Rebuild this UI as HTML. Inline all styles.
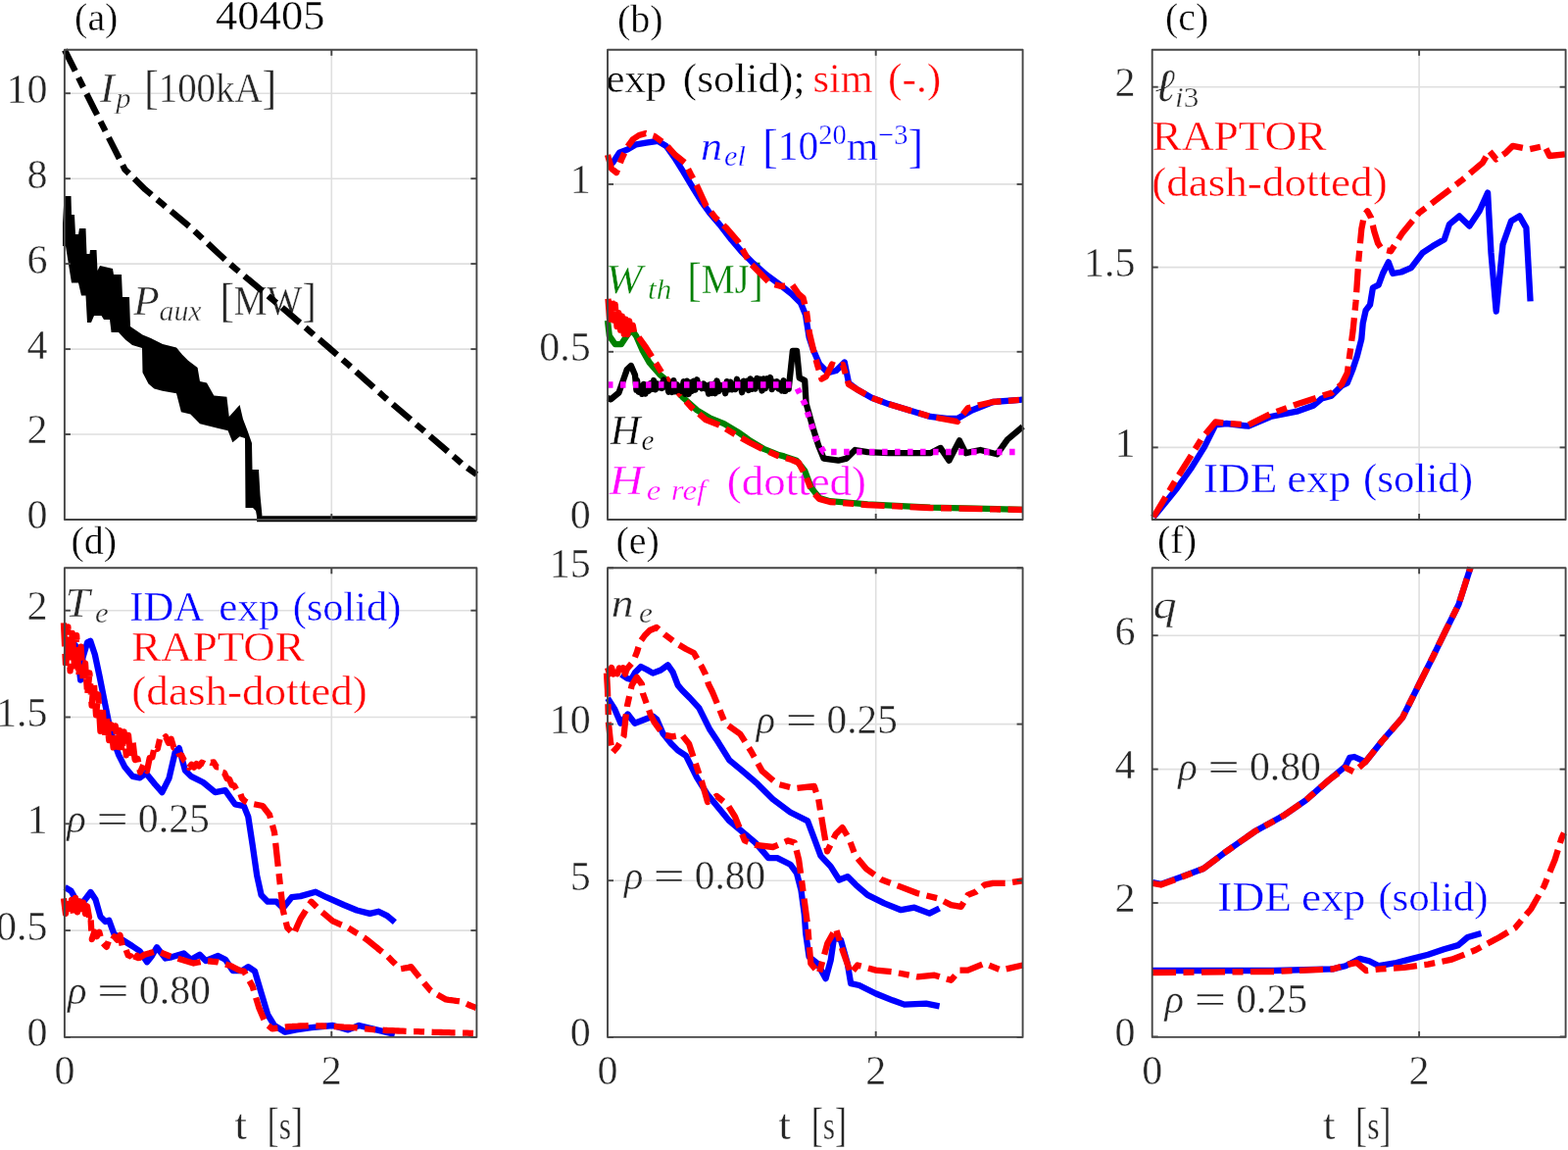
<!DOCTYPE html>
<html><head><meta charset="utf-8"><title>40405</title><style>html,body{margin:0;padding:0;background:#fff;overflow:hidden}svg{display:block}</style></head><body><svg width="1600" height="1173" viewBox="0 0 1600 1173" font-family="'Liberation Serif', 'DejaVu Serif', serif"><rect width="1600" height="1173" fill="#ffffff"/><g stroke="#dfdfdf" stroke-width="1.6"><line x1="65.9" y1="443.0" x2="486.4" y2="443.0"/><line x1="65.9" y1="356.1" x2="486.4" y2="356.1"/><line x1="65.9" y1="269.1" x2="486.4" y2="269.1"/><line x1="65.9" y1="182.2" x2="486.4" y2="182.2"/><line x1="65.9" y1="95.2" x2="486.4" y2="95.2"/><line x1="338.3" y1="50.8" x2="338.3" y2="530.0"/></g><g stroke="#dfdfdf" stroke-width="1.6"><line x1="620.0" y1="358.8" x2="1043.6" y2="358.8"/><line x1="620.0" y1="187.9" x2="1043.6" y2="187.9"/><line x1="893.7" y1="50.8" x2="893.7" y2="530.0"/></g><g stroke="#dfdfdf" stroke-width="1.6"><line x1="1175.7" y1="456.4" x2="1597.6" y2="456.4"/><line x1="1175.7" y1="272.6" x2="1597.6" y2="272.6"/><line x1="1175.7" y1="88.7" x2="1597.6" y2="88.7"/><line x1="1448.1" y1="50.8" x2="1448.1" y2="530.0"/></g><g stroke="#dfdfdf" stroke-width="1.6"><line x1="65.9" y1="949.1" x2="486.4" y2="949.1"/><line x1="65.9" y1="840.3" x2="486.4" y2="840.3"/><line x1="65.9" y1="731.5" x2="486.4" y2="731.5"/><line x1="65.9" y1="622.7" x2="486.4" y2="622.7"/><line x1="338.3" y1="579.3" x2="338.3" y2="1057.9"/></g><g stroke="#dfdfdf" stroke-width="1.6"><line x1="620.0" y1="898.2" x2="1043.6" y2="898.2"/><line x1="620.0" y1="738.6" x2="1043.6" y2="738.6"/><line x1="893.7" y1="579.3" x2="893.7" y2="1057.9"/></g><g stroke="#dfdfdf" stroke-width="1.6"><line x1="1175.7" y1="921.0" x2="1597.6" y2="921.0"/><line x1="1175.7" y1="784.6" x2="1597.6" y2="784.6"/><line x1="1175.7" y1="648.2" x2="1597.6" y2="648.2"/><line x1="1448.1" y1="579.3" x2="1448.1" y2="1057.9"/></g><g transform="translate(76.10,30.90) scale(0.9976,1)"><text x="0" y="0" font-size="40" fill="#000000" stroke="#ffffff" stroke-width="0.4" xml:space="preserve"><tspan >(a)</tspan></text></g><g transform="translate(219.94,29.60) scale(1.0637,1)"><text x="0" y="0" font-size="42" fill="#000000" stroke="#ffffff" stroke-width="0.4" xml:space="preserve"><tspan >40405</tspan></text></g><g transform="translate(629.90,32.50) scale(1.0023,1)"><text x="0" y="0" font-size="40" fill="#000000" stroke="#ffffff" stroke-width="0.4" xml:space="preserve"><tspan >(b)</tspan></text></g><g transform="translate(1189.11,30.90) scale(0.9927,1)"><text x="0" y="0" font-size="40" fill="#000000" stroke="#ffffff" stroke-width="0.4" xml:space="preserve"><tspan >(c)</tspan></text></g><g transform="translate(72.50,564.50) scale(1.0000,1)"><text x="0" y="0" font-size="40" fill="#000000" stroke="#ffffff" stroke-width="0.4" xml:space="preserve"><tspan >(d)</tspan></text></g><g transform="translate(628.50,564.50) scale(1.0000,1)"><text x="0" y="0" font-size="40" fill="#000000" stroke="#ffffff" stroke-width="0.4" xml:space="preserve"><tspan >(e)</tspan></text></g><g transform="translate(1181.00,563.50) scale(1.0000,1)"><text x="0" y="0" font-size="40" fill="#000000" stroke="#ffffff" stroke-width="0.4" xml:space="preserve"><tspan >(f)</tspan></text></g><g transform="translate(101.90,103.80) scale(1.0552,1)"><text x="0" y="0" font-size="42" fill="#262626" stroke="#ffffff" stroke-width="0.4" xml:space="preserve"><tspan font-style="italic">I</tspan><tspan font-style="italic" font-size="29" dy="6" dx="1.5">p</tspan></text></g><g transform="translate(146.89,103.80) scale(0.9266,1)"><text x="0" y="0" font-size="42" fill="#262626" stroke="#ffffff" stroke-width="0.4" xml:space="preserve"><tspan font-size="48" dy="1.5">[</tspan><tspan dy="-1.5">100kA</tspan><tspan font-size="48" dy="1.5">]</tspan></text></g><g transform="translate(136.20,320.70) scale(1.0269,1)"><text x="0" y="0" font-size="42" fill="#262626" stroke="#ffffff" stroke-width="0.4" xml:space="preserve"><tspan font-style="italic">P</tspan><tspan font-style="italic" font-size="29" dy="6">aux</tspan></text></g><g transform="translate(224.38,320.70) scale(0.9040,1)"><text x="0" y="0" font-size="42" fill="#262626" stroke="#ffffff" stroke-width="0.4" xml:space="preserve"><tspan font-size="48" dy="1.5">[</tspan><tspan dy="-1.5">MW</tspan><tspan font-size="48" dy="1.5">]</tspan></text></g><g transform="translate(618.46,94.40) scale(1.0193,1)"><text x="0" y="0" font-size="42" fill="#000000" stroke="#ffffff" stroke-width="0.4" xml:space="preserve"><tspan >exp</tspan></text></g><g transform="translate(696.85,94.40) scale(1.0267,1)"><text x="0" y="0" font-size="42" fill="#000000" stroke="#ffffff" stroke-width="0.4" xml:space="preserve"><tspan >(solid);</tspan></text></g><g transform="translate(829.59,94.40) scale(1.0069,1)"><text x="0" y="0" font-size="42" fill="#ff0000" stroke="#ffffff" stroke-width="0.4" xml:space="preserve"><tspan >sim</tspan></text></g><g transform="translate(905.93,94.40) scale(1.0367,1)"><text x="0" y="0" font-size="42" fill="#ff0000" stroke="#ffffff" stroke-width="0.4" xml:space="preserve"><tspan >(-.)</tspan></text></g><g transform="translate(714.90,163.00) scale(1.0488,1)"><text x="0" y="0" font-size="42" fill="#0000ff" stroke="#ffffff" stroke-width="0.4" xml:space="preserve"><tspan font-style="italic">n</tspan><tspan font-style="italic" font-size="29" dy="6" dx="2">el</tspan></text></g><g transform="translate(778.05,163.00) scale(0.9868,1)"><text x="0" y="0" font-size="42" fill="#0000ff" stroke="#ffffff" stroke-width="0.4" xml:space="preserve"><tspan font-size="48" dy="1.5">[</tspan><tspan dy="-1.5">10</tspan><tspan font-size="29" dy="-16">20</tspan><tspan dy="16">m</tspan><tspan font-size="29" dy="-16">−3</tspan><tspan font-size="48" dy="17.5">]</tspan></text></g><g transform="translate(618.08,298.80) scale(1.0741,1)"><text x="0" y="0" font-size="42" fill="#008000" stroke="#ffffff" stroke-width="0.4" xml:space="preserve"><tspan font-style="italic">W</tspan><tspan font-style="italic" font-size="29" dy="6" dx="5">th</tspan></text></g><g transform="translate(701.37,299.20) scale(0.9064,1)"><text x="0" y="0" font-size="42" fill="#008000" stroke="#ffffff" stroke-width="0.4" xml:space="preserve"><tspan font-size="48" dy="1.5">[</tspan><tspan dy="-1.5">MJ</tspan><tspan font-size="48" dy="1.5">]</tspan></text></g><g transform="translate(622.70,452.60) scale(1.0116,1)"><text x="0" y="0" font-size="42" fill="#000000" stroke="#ffffff" stroke-width="0.4" xml:space="preserve"><tspan font-style="italic">H</tspan><tspan font-style="italic" font-size="29" dy="6" dx="1">e</tspan></text></g><g transform="translate(621.80,504.30) scale(1.1404,1)"><text x="0" y="0" font-size="42" fill="#ff00ff" stroke="#ffffff" stroke-width="0.4" xml:space="preserve"><tspan font-style="italic">H</tspan><tspan font-style="italic" font-size="29" dy="6" dx="3">e</tspan><tspan font-style="italic" font-size="29" dx="9">ref</tspan></text></g><g transform="translate(741.86,505.00) scale(1.0690,1)"><text x="0" y="0" font-size="42" fill="#ff00ff" stroke="#ffffff" stroke-width="0.4" xml:space="preserve"><tspan >(dotted)</tspan></text></g><g transform="translate(1177.92,102.50) scale(1.0750,1)"><text x="0" y="0" font-size="42" fill="#262626" stroke="#ffffff" stroke-width="0.4" xml:space="preserve"><tspan font-style="italic" font-size="47">ℓ</tspan><tspan font-style="italic" font-size="29" dy="6">i</tspan><tspan font-size="29">3</tspan></text></g><g transform="translate(1175.42,153.40) scale(1.0799,1)"><text x="0" y="0" font-size="42" fill="#ff0000" stroke="#ffffff" stroke-width="0.4" xml:space="preserve"><tspan >RAPTOR</tspan></text></g><g transform="translate(1175.15,199.70) scale(1.0745,1)"><text x="0" y="0" font-size="42" fill="#ff0000" stroke="#ffffff" stroke-width="0.4" xml:space="preserve"><tspan >(dash-dotted)</tspan></text></g><g transform="translate(1228.05,501.70) scale(1.0773,1)"><text x="0" y="0" font-size="42" fill="#0000ff" stroke="#ffffff" stroke-width="0.4" xml:space="preserve"><tspan >IDE</tspan></text></g><g transform="translate(1313.35,501.70) scale(1.0737,1)"><text x="0" y="0" font-size="42" fill="#0000ff" stroke="#ffffff" stroke-width="0.4" xml:space="preserve"><tspan >exp</tspan></text></g><g transform="translate(1391.06,501.70) scale(1.0217,1)"><text x="0" y="0" font-size="42" fill="#0000ff" stroke="#ffffff" stroke-width="0.4" xml:space="preserve"><tspan >(solid)</tspan></text></g><g transform="translate(66.80,629.40) scale(1.0676,1)"><text x="0" y="0" font-size="42" fill="#262626" stroke="#ffffff" stroke-width="0.4" xml:space="preserve"><tspan font-style="italic">T</tspan><tspan font-style="italic" font-size="29" dy="6" dx="5">e</tspan></text></g><g transform="translate(132.27,632.80) scale(1.0153,1)"><text x="0" y="0" font-size="42" fill="#0000ff" stroke="#ffffff" stroke-width="0.4" xml:space="preserve"><tspan >IDA</tspan></text></g><g transform="translate(223.35,632.80) scale(1.0263,1)"><text x="0" y="0" font-size="42" fill="#0000ff" stroke="#ffffff" stroke-width="0.4" xml:space="preserve"><tspan >exp</tspan></text></g><g transform="translate(298.78,632.80) scale(1.0085,1)"><text x="0" y="0" font-size="42" fill="#0000ff" stroke="#ffffff" stroke-width="0.4" xml:space="preserve"><tspan >(solid)</tspan></text></g><g transform="translate(134.33,673.80) scale(1.0701,1)"><text x="0" y="0" font-size="42" fill="#ff0000" stroke="#ffffff" stroke-width="0.4" xml:space="preserve"><tspan >RAPTOR</tspan></text></g><g transform="translate(134.35,718.80) scale(1.0741,1)"><text x="0" y="0" font-size="42" fill="#ff0000" stroke="#ffffff" stroke-width="0.4" xml:space="preserve"><tspan >(dash-dotted)</tspan></text></g><g transform="translate(68.17,849.00) scale(0.9700,1)"><text x="0" y="0" font-size="42" fill="#262626" stroke="#ffffff" stroke-width="0.4" xml:space="preserve"><tspan font-style="italic">ρ</tspan></text></g><g transform="translate(98.14,849.00) scale(1.3800,1)"><text x="0" y="0" font-size="42" fill="#262626" stroke="#ffffff" stroke-width="0.4" xml:space="preserve"><tspan >=</tspan></text></g><g transform="translate(140.81,849.00) scale(0.9943,1)"><text x="0" y="0" font-size="42" fill="#262626" stroke="#ffffff" stroke-width="0.4" xml:space="preserve"><tspan >0.25</tspan></text></g><g transform="translate(68.97,1024.00) scale(0.9720,1)"><text x="0" y="0" font-size="42" fill="#262626" stroke="#ffffff" stroke-width="0.4" xml:space="preserve"><tspan font-style="italic">ρ</tspan></text></g><g transform="translate(99.00,1024.00) scale(1.3829,1)"><text x="0" y="0" font-size="42" fill="#262626" stroke="#ffffff" stroke-width="0.4" xml:space="preserve"><tspan >=</tspan></text></g><g transform="translate(141.76,1024.00) scale(0.9963,1)"><text x="0" y="0" font-size="42" fill="#262626" stroke="#ffffff" stroke-width="0.4" xml:space="preserve"><tspan >0.80</tspan></text></g><g transform="translate(623.83,629.10) scale(1.0833,1)"><text x="0" y="0" font-size="42" fill="#262626" stroke="#ffffff" stroke-width="0.4" xml:space="preserve"><tspan font-style="italic">n</tspan><tspan font-style="italic" font-size="29" dy="6" dx="5">e</tspan></text></g><g transform="translate(771.86,748.00) scale(0.9580,1)"><text x="0" y="0" font-size="42" fill="#262626" stroke="#ffffff" stroke-width="0.4" xml:space="preserve"><tspan font-style="italic">ρ</tspan></text></g><g transform="translate(801.46,748.00) scale(1.3629,1)"><text x="0" y="0" font-size="42" fill="#262626" stroke="#ffffff" stroke-width="0.4" xml:space="preserve"><tspan >=</tspan></text></g><g transform="translate(843.60,748.00) scale(0.9820,1)"><text x="0" y="0" font-size="42" fill="#262626" stroke="#ffffff" stroke-width="0.4" xml:space="preserve"><tspan >0.25</tspan></text></g><g transform="translate(636.96,907.00) scale(0.9593,1)"><text x="0" y="0" font-size="42" fill="#262626" stroke="#ffffff" stroke-width="0.4" xml:space="preserve"><tspan font-style="italic">ρ</tspan></text></g><g transform="translate(666.60,907.00) scale(1.3648,1)"><text x="0" y="0" font-size="42" fill="#262626" stroke="#ffffff" stroke-width="0.4" xml:space="preserve"><tspan >=</tspan></text></g><g transform="translate(708.80,907.00) scale(0.9833,1)"><text x="0" y="0" font-size="42" fill="#262626" stroke="#ffffff" stroke-width="0.4" xml:space="preserve"><tspan >0.80</tspan></text></g><g transform="translate(1176.66,630.50) scale(1.1368,1)"><text x="0" y="0" font-size="42" fill="#262626" stroke="#ffffff" stroke-width="0.4" xml:space="preserve"><tspan font-style="italic">q</tspan></text></g><g transform="translate(1202.37,795.90) scale(0.9693,1)"><text x="0" y="0" font-size="42" fill="#262626" stroke="#ffffff" stroke-width="0.4" xml:space="preserve"><tspan font-style="italic">ρ</tspan></text></g><g transform="translate(1232.32,795.90) scale(1.3790,1)"><text x="0" y="0" font-size="42" fill="#262626" stroke="#ffffff" stroke-width="0.4" xml:space="preserve"><tspan >=</tspan></text></g><g transform="translate(1274.96,795.90) scale(0.9936,1)"><text x="0" y="0" font-size="42" fill="#262626" stroke="#ffffff" stroke-width="0.4" xml:space="preserve"><tspan >0.80</tspan></text></g><g transform="translate(1188.57,1033.10) scale(0.9693,1)"><text x="0" y="0" font-size="42" fill="#262626" stroke="#ffffff" stroke-width="0.4" xml:space="preserve"><tspan font-style="italic">ρ</tspan></text></g><g transform="translate(1218.52,1033.10) scale(1.3790,1)"><text x="0" y="0" font-size="42" fill="#262626" stroke="#ffffff" stroke-width="0.4" xml:space="preserve"><tspan >=</tspan></text></g><g transform="translate(1261.16,1033.10) scale(0.9936,1)"><text x="0" y="0" font-size="42" fill="#262626" stroke="#ffffff" stroke-width="0.4" xml:space="preserve"><tspan >0.25</tspan></text></g><g transform="translate(1242.34,929.20) scale(1.0824,1)"><text x="0" y="0" font-size="42" fill="#0000ff" stroke="#ffffff" stroke-width="0.4" xml:space="preserve"><tspan >IDE</tspan></text></g><g transform="translate(1328.05,929.20) scale(1.0788,1)"><text x="0" y="0" font-size="42" fill="#0000ff" stroke="#ffffff" stroke-width="0.4" xml:space="preserve"><tspan >exp</tspan></text></g><g transform="translate(1406.13,929.20) scale(1.0266,1)"><text x="0" y="0" font-size="42" fill="#0000ff" stroke="#ffffff" stroke-width="0.4" xml:space="preserve"><tspan >(solid)</tspan></text></g><g transform="translate(239.40,1161.70) scale(1.0000,1)"><text x="0" y="0" font-size="42" fill="#262626" stroke="#ffffff" stroke-width="0.4" xml:space="preserve"><tspan font-size="45">t</tspan></text></g><g transform="translate(272.59,1161.70) scale(0.7537,1)"><text x="0" y="0" font-size="42" fill="#262626" stroke="#ffffff" stroke-width="0.4" xml:space="preserve"><tspan font-size="48" dy="1.5">[</tspan><tspan dy="-1.5">s</tspan><tspan font-size="48" dy="1.5">]</tspan></text></g><g transform="translate(794.50,1161.70) scale(1.0000,1)"><text x="0" y="0" font-size="42" fill="#262626" stroke="#ffffff" stroke-width="0.4" xml:space="preserve"><tspan font-size="45">t</tspan></text></g><g transform="translate(827.69,1161.70) scale(0.7537,1)"><text x="0" y="0" font-size="42" fill="#262626" stroke="#ffffff" stroke-width="0.4" xml:space="preserve"><tspan font-size="48" dy="1.5">[</tspan><tspan dy="-1.5">s</tspan><tspan font-size="48" dy="1.5">]</tspan></text></g><g transform="translate(1349.90,1161.70) scale(1.0000,1)"><text x="0" y="0" font-size="42" fill="#262626" stroke="#ffffff" stroke-width="0.4" xml:space="preserve"><tspan font-size="45">t</tspan></text></g><g transform="translate(1383.09,1161.70) scale(0.7537,1)"><text x="0" y="0" font-size="42" fill="#262626" stroke="#ffffff" stroke-width="0.4" xml:space="preserve"><tspan font-size="48" dy="1.5">[</tspan><tspan dy="-1.5">s</tspan><tspan font-size="48" dy="1.5">]</tspan></text></g><g font-size="42" fill="#262626" stroke="#ffffff" stroke-width="0.4"><text x="48.6" y="539.4" text-anchor="end">0</text><text x="48.6" y="452.4" text-anchor="end">2</text><text x="48.6" y="365.5" text-anchor="end">4</text><text x="48.6" y="278.5" text-anchor="end">6</text><text x="48.6" y="191.6" text-anchor="end">8</text><text x="48.6" y="104.6" text-anchor="end">10</text><text x="602.7" y="539.4" text-anchor="end">0</text><text x="602.7" y="368.2" text-anchor="end">0.5</text><text x="602.7" y="197.3" text-anchor="end">1</text><text x="1158.4" y="465.8" text-anchor="end">1</text><text x="1158.4" y="282.0" text-anchor="end">1.5</text><text x="1158.4" y="98.1" text-anchor="end">2</text><text x="48.6" y="1067.3" text-anchor="end">0</text><text x="48.6" y="958.5" text-anchor="end">0.5</text><text x="48.6" y="849.7" text-anchor="end">1</text><text x="48.6" y="740.9" text-anchor="end">1.5</text><text x="48.6" y="632.1" text-anchor="end">2</text><text x="65.9" y="1106.3" text-anchor="middle">0</text><text x="338.3" y="1106.3" text-anchor="middle">2</text><text x="602.7" y="1067.3" text-anchor="end">0</text><text x="602.7" y="907.6" text-anchor="end">5</text><text x="602.7" y="748.0" text-anchor="end">10</text><text x="602.7" y="588.7" text-anchor="end">15</text><text x="620.0" y="1106.3" text-anchor="middle">0</text><text x="893.7" y="1106.3" text-anchor="middle">2</text><text x="1158.4" y="1066.8" text-anchor="end">0</text><text x="1158.4" y="930.4" text-anchor="end">2</text><text x="1158.4" y="794.0" text-anchor="end">4</text><text x="1158.4" y="657.6" text-anchor="end">6</text><text x="1175.7" y="1106.3" text-anchor="middle">0</text><text x="1448.1" y="1106.3" text-anchor="middle">2</text></g><g><polygon points="64.0,228.0 65.5,200.0 72.5,200.0 73.0,219.0 76.0,219.0 77.0,239.0 80.0,239.0 81.0,233.0 87.5,233.0 88.5,259.0 91.5,259.0 92.0,255.0 98.5,255.0 99.5,276.0 102.0,271.0 115.0,274.0 116.0,280.0 124.0,280.0 125.0,303.0 132.0,303.0 133.0,333.0 145.5,341.5 154.0,345.0 166.0,351.0 180.0,354.6 186.0,361.8 192.0,367.7 201.6,374.9 204.0,389.0 211.0,390.4 218.3,403.5 231.4,404.7 233.8,425.0 244.6,413.0 248.0,427.4 252.8,440.0 257.0,452.0 257.5,479.0 264.0,479.0 265.5,505.0 267.5,526.0 263.0,532.0 261.0,521.0 258.0,518.0 250.5,518.0 250.0,447.0 244.6,445.3 237.4,451.3 232.6,439.3 223.0,437.0 204.0,432.2 194.4,422.6 184.9,420.2 180.0,401.2 165.8,398.8 157.4,396.4 151.5,391.6 145.5,380.0 145.0,355.0 135.0,352.0 128.0,346.5 121.0,339.0 113.6,339.0 112.0,326.0 106.0,326.0 103.5,322.0 96.0,322.0 93.0,329.0 89.0,329.0 87.5,301.6 83.0,301.6 80.0,288.5 73.0,288.5 67.0,251.0 64.0,251.0" fill="#000000" stroke="none"/><polyline points="262.0,529.3 486.4,529.3" fill="none" stroke="#000000" stroke-width="6" stroke-linejoin="round" stroke-linecap="butt"/><polyline points="66.0,51.0 96.0,111.0 127.5,173.0 148.1,193.2 195.0,232.5 232.5,267.5 288.8,314.5 335.5,354.5 354.6,371.2 392.8,405.5 433.7,440.5 473.2,474.5 486.4,484.0" fill="none" stroke="#000000" stroke-width="6.3" stroke-linejoin="round" stroke-linecap="butt" stroke-dasharray="24 7.5 11 7.5"/><polyline points="620.1,164.3 625.2,166.0 632.0,155.8 640.6,152.4 649.1,147.3 659.3,145.6 671.3,143.9 679.8,149.0 688.3,160.9 696.9,174.6 707.1,191.6 715.6,205.3 724.1,217.2 734.4,229.1 746.3,244.5 756.5,256.4 768.5,268.4 782.1,280.3 794.0,289.0 808.0,300.0 817.0,309.0 822.0,321.0 825.6,344.0 829.8,356.7 836.2,371.6 844.8,380.2 853.3,378.0 861.8,369.5 866.1,390.8 874.6,397.2 889.5,405.7 906.6,412.1 927.9,418.5 949.2,424.9 966.2,427.0 976.9,427.0 991.8,418.5 1013.1,410.0 1040.8,407.9 1043.6,407.5" fill="none" stroke="#0000ff" stroke-width="6.3" stroke-linejoin="round" stroke-linecap="butt"/><polyline points="620.0,158.0 624.0,172.0 629.0,176.0 634.0,163.0 640.0,150.0 646.0,142.0 652.0,138.0 659.0,136.0 668.0,139.0 679.0,147.0 689.0,158.0 699.0,166.0 705.0,178.0 710.5,188.2 720.7,210.4 730.0,222.0 741.2,232.5 753.1,246.2 765.1,268.0 775.0,278.0 785.5,288.8 797.0,292.0 808.5,290.7 815.0,300.0 819.6,304.0 823.0,318.0 826.0,340.0 830.0,357.0 834.0,372.0 838.4,386.6 843.0,384.0 849.0,371.6 855.0,374.0 860.0,372.0 866.0,392.0 874.6,397.2 889.5,405.7 906.6,412.1 927.9,418.5 949.2,424.9 966.2,428.0 976.9,430.0 987.5,416.4 1000.0,413.0 1013.0,410.0 1040.8,407.9 1043.6,407.5" fill="none" stroke="#ff0000" stroke-width="6.3" stroke-linejoin="round" stroke-linecap="butt" stroke-dasharray="24 7.5 11 7.5"/><polyline points="620.0,327.0 621.8,342.6 627.8,351.2 633.8,351.2 640.6,340.9 644.8,336.7 649.1,342.6 655.9,358.0 662.7,369.9 673.0,381.8 683.7,390.9 697.5,406.0 711.2,418.4 725.0,426.6 738.7,432.1 752.5,440.4 766.2,450.0 780.0,458.2 793.7,463.7 800.0,465.4 807.5,467.9 812.8,469.7 821.3,480.3 827.7,497.4 836.2,508.0 846.9,511.2 885.3,514.4 949.2,517.6 1043.6,519.8" fill="none" stroke="#008000" stroke-width="6.3" stroke-linejoin="round" stroke-linecap="butt"/><polyline points="620.5,304.7 622.3,330.3 624.1,306.4 625.9,326.5 627.7,310.6 629.5,333.0 631.3,319.0 633.1,336.7 634.9,322.7 636.7,340.8 638.5,325.6 640.3,341.0 642.1,327.3 643.9,338.4 645.7,331.7 647.5,340.9 651.0,343.0 659.3,354.6 667.9,368.2 676.4,381.8 690.0,398.0 705.0,415.0 720.0,428.0 735.0,434.0 750.0,443.0 766.0,452.0 780.0,459.0 794.0,465.0 808.0,469.0 815.0,472.0 822.0,485.0 828.0,500.0 836.0,509.0 847.0,512.0 885.0,515.0 949.0,518.0 1043.6,520.0" fill="none" stroke="#ff0000" stroke-width="6.3" stroke-linejoin="round" stroke-linecap="butt" stroke-dasharray="24 7.5 11 7.5"/><polyline points="620.0,406.0 623.2,407.4 631.5,400.5 639.7,377.1 643.9,373.0 648.0,382.6 649.4,397.7 650.0,388.0 651.7,399.9 653.4,394.1 655.1,401.9 656.8,391.9 658.5,401.6 660.2,393.1 661.9,398.8 663.6,391.1 665.3,396.8 667.0,388.0 668.7,397.4 670.4,391.3 672.1,395.3 673.8,391.9 675.5,395.9 677.2,387.4 678.9,394.2 680.6,392.4 682.3,399.8 684.0,392.7 685.7,400.0 687.4,388.2 689.1,399.2 690.8,392.3 692.5,397.8 694.2,395.0 695.9,399.1 697.6,389.3 699.3,401.8 701.0,388.6 702.7,402.0 704.4,390.2 706.1,398.8 707.8,388.8 709.5,397.6 711.2,387.3 712.9,394.7 714.6,392.0 716.3,396.2 718.0,391.5 719.7,396.3 721.4,393.2 723.1,401.6 724.8,392.2 726.5,401.0 728.2,391.6 729.9,401.2 731.6,388.5 733.3,399.1 735.0,392.8 736.7,396.7 738.4,392.9 740.1,401.2 741.8,389.1 743.5,397.3 745.2,389.6 746.9,397.3 748.6,393.3 750.3,397.1 752.0,386.8 753.7,394.8 755.4,390.6 757.1,400.2 758.8,388.6 760.5,396.5 762.2,388.7 763.9,398.0 765.6,386.4 767.3,396.8 769.0,388.5 770.7,396.6 772.4,385.9 774.1,393.6 775.8,386.7 777.5,398.5 779.2,386.4 780.9,396.2 782.6,386.3 784.3,392.9 786.0,385.0 787.7,397.1 789.4,389.5 791.1,394.5 792.8,389.3 794.5,396.6 796.2,390.9 797.9,398.5 799.6,388.3 801.3,398.9 803.0,392.0 804.7,396.8 808.9,357.9 813.0,357.9 815.7,385.4 821.2,388.1 822.6,411.5 829.5,436.2 835.0,454.0 840.5,467.6 855.4,469.7 863.9,467.6 872.5,459.0 885.3,461.2 906.6,462.2 927.9,462.2 949.2,462.2 959.8,456.9 968.4,469.7 979.0,449.4 985.4,462.2 1000.3,459.0 1017.4,463.3 1028.0,448.4 1040.8,437.7 1043.6,435.0" fill="none" stroke="#000000" stroke-width="6.3" stroke-linejoin="round" stroke-linecap="butt"/><polyline points="620.0,392.5 808.0,392.5 813.0,395.0 821.3,412.0 832.0,446.0 840.5,461.0 1043.6,461.0" fill="none" stroke="#ff00ff" stroke-width="6.3" stroke-linejoin="round" stroke-linecap="butt" stroke-dasharray="5.5 7.5"/><polyline points="1177.0,527.5 1189.7,512.0 1201.0,498.0 1215.0,478.3 1229.0,455.8 1240.3,433.3 1251.5,432.0 1274.0,434.7 1296.5,425.0 1324.6,419.3 1340.0,413.8 1348.7,406.5 1358.8,403.6 1369.0,393.5 1374.8,390.6 1380.6,376.1 1384.9,363.0 1389.3,345.7 1390.7,329.7 1393.6,316.7 1398.0,310.9 1400.9,293.5 1406.7,290.6 1411.0,279.0 1416.8,267.4 1421.2,279.0 1429.9,277.5 1440.0,273.2 1451.6,257.9 1461.9,251.1 1473.8,244.3 1478.9,228.9 1489.1,220.4 1499.4,230.6 1509.6,215.3 1518.1,196.5 1521.5,257.9 1526.7,317.6 1533.5,249.4 1542.0,225.5 1550.5,220.4 1557.4,232.3 1561.6,307.4" fill="none" stroke="#0000ff" stroke-width="6.3" stroke-linejoin="round" stroke-linecap="butt"/><polyline points="1177.0,527.5 1198.1,492.4 1226.2,447.4 1240.3,430.5 1254.3,432.0 1274.0,433.3 1296.5,422.1 1327.4,410.9 1358.8,400.7 1369.0,392.0 1374.8,380.4 1377.7,358.7 1380.6,337.0 1383.5,308.0 1386.4,264.5 1389.3,233.7 1392.0,220.0 1395.3,215.3 1399.0,222.0 1402.2,235.7 1406.0,248.0 1410.0,254.0 1419.2,256.2 1431.2,237.4 1448.2,217.0 1468.7,201.6 1490.8,184.6 1513.0,165.8 1519.8,153.9 1526.7,162.4 1536.9,155.6 1543.7,148.8 1560.8,152.2 1576.1,148.8 1581.2,159.0 1597.6,157.3" fill="none" stroke="#ff0000" stroke-width="6.3" stroke-linejoin="round" stroke-linecap="butt" stroke-dasharray="24 7.5 11 7.5"/><polyline points="66.0,651.0 70.0,655.0 73.8,655.3 76.9,658.3 80.0,675.2 82.2,693.6 84.5,670.6 89.1,655.3 92.2,653.7 96.8,667.5 101.4,689.0 106.0,712.0 109.1,727.4 112.1,742.7 116.7,758.0 121.3,770.3 127.5,782.6 135.2,791.8 142.8,793.3 149.0,788.7 158.2,800.0 165.4,808.2 172.5,793.9 178.7,767.3 182.8,763.2 188.9,785.7 195.0,791.9 207.3,798.0 219.6,808.2 229.8,806.2 240.0,820.5 248.9,822.2 253.3,833.2 257.7,862.0 262.2,893.1 266.6,913.0 273.2,919.7 282.1,919.7 288.8,926.3 297.6,915.2 306.5,914.1 322.0,909.7 333.1,915.2 350.8,923.0 364.1,928.5 377.4,931.9 386.3,929.7 395.1,934.1 402.9,940.7" fill="none" stroke="#0000ff" stroke-width="6.3" stroke-linejoin="round" stroke-linecap="butt"/><polyline points="66.2,905.0 72.5,908.8 78.8,920.0 85.0,920.0 92.5,910.0 97.5,917.5 102.5,935.0 107.5,940.0 111.3,938.8 116.3,952.5 125.0,958.8 135.0,965.0 142.5,970.0 150.0,981.3 155.0,975.0 160.0,966.3 168.8,977.5 175.0,976.3 187.5,972.5 195.0,978.8 203.8,973.8 210.0,980.0 222.5,975.0 230.0,978.8 237.5,990.0 247.5,990.0 253.3,986.2 260.0,990.6 266.6,1012.8 273.2,1034.9 279.9,1046.0 291.0,1052.7 302.1,1050.4 317.6,1048.2 339.7,1046.0 355.2,1050.4 366.3,1046.0 384.1,1050.4 402.9,1054.9" fill="none" stroke="#0000ff" stroke-width="6.3" stroke-linejoin="round" stroke-linecap="butt"/><polyline points="65.0,635.4 67.2,682.2 69.4,639.3 71.6,684.3 73.8,645.8 76.0,679.3 78.2,648.1 80.4,689.7 82.6,659.7 84.8,695.6 87.0,676.3 89.2,708.9 91.4,686.5 93.6,719.6 95.8,695.4 98.0,729.4 100.2,708.5 102.4,745.8 104.6,720.4 106.8,752.9 109.0,732.3 111.2,755.0 113.4,739.1 115.6,762.4 117.8,740.3 120.0,761.8 122.2,745.0 124.4,766.6 126.6,746.4 128.8,770.3 131.0,749.9 133.2,771.8 135.4,755.2 137.6,774.4 138.0,775.1 140.5,774.0 143.0,787.7 146.5,779.9 150.0,786.3 152.7,773.1 155.3,772.5 158.0,760.7 160.8,763.7 163.6,751.7 166.4,753.8 169.1,751.4 171.9,757.8 174.6,753.7 177.3,762.6 180.1,763.1 182.8,769.5 185.4,770.7 187.9,775.6 190.4,777.4 193.0,783.0 195.5,779.8 198.0,782.6 200.5,779.1 203.0,781.4 206.0,777.7 209.0,779.3 212.0,776.5 215.0,777.8 218.0,777.5 221.0,782.3 224.0,782.3 226.5,787.7 229.0,788.4 231.5,794.1 234.0,794.8 236.5,800.8 239.0,801.4 241.5,805.7 244.0,806.1 247.0,814.3 250.0,817.3 252.7,818.7 255.3,819.3 258.0,820.0 260.5,820.5 263.0,821.0 265.5,821.5 268.0,822.0 271.5,826.5 275.0,831.0 277.5,840.0 280.0,849.0 284.3,888.6 288.8,928.5 293.2,946.3 296.5,949.6 299.8,952.9 303.1,945.1 306.5,937.4 309.3,933.0 312.1,928.5 314.8,924.1 317.6,919.7 320.5,922.6 323.5,925.6 326.4,928.5 329.1,930.7 331.7,932.9 334.4,935.2 337.0,937.4 339.7,939.6 342.3,940.7 344.9,941.8 347.4,943.0 350.0,944.1 352.6,945.2 355.2,946.3 357.7,947.9 360.3,949.5 362.8,951.1 365.4,952.6 367.9,954.2 370.5,955.8 373.0,957.4 375.8,959.6 378.5,961.8 381.3,964.0 384.1,966.2 386.8,968.5 389.6,970.7 392.3,972.9 395.1,975.1 397.8,977.8 400.4,980.4 403.1,983.1 405.7,985.7 408.4,988.4 411.2,987.9 413.9,987.3 416.7,986.8 419.5,986.2 422.5,989.9 425.4,993.6 428.4,997.3 431.2,1000.6 433.9,1003.9 436.7,1007.2 439.5,1010.5 442.1,1012.0 444.7,1013.5 447.2,1015.0 449.8,1016.4 452.4,1017.9 455.0,1019.4 457.6,1019.8 460.2,1020.1 462.8,1020.5 465.3,1020.9 467.9,1021.2 470.5,1021.6 473.1,1022.7 475.8,1023.8 478.4,1025.0 481.1,1026.1 483.8,1027.2 486.4,1028.3" fill="none" stroke="#ff0000" stroke-width="6.3" stroke-linejoin="round" stroke-linecap="butt" stroke-dasharray="24 7.5 11 7.5"/><polyline points="65.0,916.4 67.0,932.0 69.0,917.7 71.0,932.7 73.0,917.9 75.0,932.2 77.0,915.8 79.0,930.4 81.0,919.4 83.0,931.9 85.0,920.5 87.0,932.0 89.0,924.2 91.0,935.7 88.8,935.7 92.5,935.7 93.8,958.1 96.3,950.6 98.8,955.1 101.3,950.7 103.8,960.4 106.3,963.2 108.8,965.8 111.3,958.4 113.8,960.2 116.7,955.3 119.6,958.7 122.5,953.9 125.0,966.1 127.5,965.9 130.7,974.4 133.8,975.5 137.5,981.6 140.0,974.8 142.5,976.9 145.0,975.3 147.5,973.8 150.0,973.0 152.5,972.3 155.0,971.5 157.5,970.8 160.0,970.0 162.5,971.0 165.0,972.0 167.5,973.0 170.0,974.0 172.5,975.0 175.0,975.8 177.5,976.5 180.0,977.3 182.5,978.0 185.0,978.8 187.5,979.5 190.0,980.3 192.5,981.0 195.0,981.8 197.5,982.5 200.0,982.0 202.5,981.5 205.0,981.0 207.5,980.5 210.0,980.0 212.5,980.3 215.0,980.5 217.5,980.8 220.0,981.0 222.5,981.3 225.0,982.0 227.5,982.8 230.0,983.5 232.5,984.3 235.0,985.0 237.5,986.2 240.0,987.5 242.5,988.8 245.0,990.0 248.9,990.6 251.8,995.8 254.8,1000.9 257.7,1006.1 261.0,1017.2 264.4,1028.3 267.7,1036.0 271.0,1043.8 274.4,1046.5 277.7,1049.3 280.2,1049.0 282.8,1048.7 285.3,1048.4 287.8,1048.0 290.3,1047.7 292.9,1047.4 295.4,1047.1 298.2,1047.0 300.9,1046.8 303.7,1046.7 306.5,1046.5 309.3,1046.4 312.1,1046.3 314.8,1046.1 317.6,1046.0 320.4,1046.1 323.1,1046.3 325.9,1046.4 328.6,1046.5 331.4,1046.7 334.2,1046.8 336.9,1047.0 339.7,1047.1 342.5,1047.2 345.2,1047.4 348.0,1047.5 350.8,1047.7 353.6,1047.8 356.3,1047.9 359.1,1048.1 361.9,1048.2 364.7,1048.5 367.4,1048.8 370.2,1049.0 373.0,1049.3 375.8,1049.6 378.6,1049.9 381.3,1050.1 384.1,1050.4 386.9,1050.5 389.6,1050.7 392.4,1050.8 395.1,1051.0 397.9,1051.1 400.7,1051.2 403.4,1051.4 406.2,1051.5 408.8,1051.6 411.3,1051.7 413.9,1051.8 416.4,1051.9 419.0,1052.0 421.6,1052.1 424.1,1052.1 426.7,1052.2 429.3,1052.3 431.8,1052.4 434.4,1052.5 436.9,1052.6 439.5,1052.7 442.2,1052.8 444.8,1052.8 447.5,1052.9 450.1,1053.0 452.8,1053.1 455.5,1053.1 458.1,1053.2 460.8,1053.3 463.4,1053.4 466.1,1053.4 468.8,1053.5 471.4,1053.6 474.1,1053.7 476.7,1053.7 479.4,1053.8 482.9,1053.9 486.4,1054.0" fill="none" stroke="#ff0000" stroke-width="6.3" stroke-linejoin="round" stroke-linecap="butt" stroke-dasharray="24 7.5 11 7.5"/><polyline points="634.0,688.0 640.0,692.0 644.0,693.0 648.0,686.0 654.0,680.0 660.0,683.0 666.2,686.6 674.3,683.5 681.5,678.4 686.6,685.6 691.7,698.9 696.0,704.0 704.0,712.0 713.3,722.2 724.4,744.3 733.2,757.6 744.3,775.4 757.6,786.4 773.1,799.7 788.7,815.2 806.4,828.5 824.1,837.4 830.8,855.1 837.4,872.9 847.7,883.9 856.3,897.5 864.8,894.1 873.3,902.6 885.3,912.9 902.3,921.4 919.4,928.2 933.0,925.7 948.4,931.6 958.6,926.5" fill="none" stroke="#0000ff" stroke-width="6.3" stroke-linejoin="round" stroke-linecap="butt"/><polyline points="620.1,712.2 627.3,723.4 633.4,737.7 640.6,728.5 647.7,737.7 658.0,733.7 666.2,730.6 670.2,733.7 676.4,748.0 684.6,758.2 691.7,765.4 700.0,770.9 711.1,793.1 722.2,810.8 733.2,824.1 744.3,837.4 757.6,848.5 770.9,859.6 784.2,875.1 793.1,875.1 806.4,881.7 813.0,890.6 817.5,908.3 820.8,932.7 822.2,952.1 825.6,976.0 834.1,982.8 842.6,998.1 847.7,979.4 851.2,955.5 858.0,958.9 864.8,982.8 868.2,1003.2 876.7,1005.0 893.8,1013.5 910.8,1020.3 922.8,1024.6 945.0,1023.7 958.6,1026.3" fill="none" stroke="#0000ff" stroke-width="6.3" stroke-linejoin="round" stroke-linecap="butt"/><polyline points="620.0,681.0 622.0,687.2 624.0,681.0 626.0,687.5 628.0,680.6 630.0,687.2 632.0,681.4 634.0,688.3 636.0,681.2 638.0,687.6 639.0,684.0 640.0,682.0 646.0,675.0 650.0,665.0 653.0,655.0 658.0,648.0 663.0,643.0 670.0,640.0 678.0,647.0 682.0,650.0 690.0,656.0 700.0,662.0 708.0,666.0 712.0,673.0 716.0,680.0 720.0,688.0 723.0,698.0 727.0,706.0 732.0,718.0 739.9,737.7 755.4,748.8 766.5,766.5 777.6,786.4 793.1,799.7 810.8,804.2 830.8,802.0 835.2,815.2 839.6,841.8 844.1,868.4 852.9,850.7 859.6,844.1 866.2,855.1 872.9,872.9 884.0,886.2 899.5,897.3 917.2,903.9 936.4,911.2 956.9,916.3 970.5,923.1 980.8,924.8 987.6,912.9 996.1,909.5 1004.6,902.6 1013.2,900.9 1026.8,900.9 1043.6,898.4" fill="none" stroke="#ff0000" stroke-width="6.3" stroke-linejoin="round" stroke-linecap="butt" stroke-dasharray="24 7.5 11 7.5"/><polyline points="619.0,686.6 620.0,704.0 621.0,737.7 623.0,757.0 625.2,767.4 630.0,762.0 636.5,751.0 638.5,731.6 640.0,720.0 644.7,698.9 649.8,690.7 654.9,697.9 655.9,707.0 664.1,729.6 667.5,736.3 676.9,749.4 686.3,751.3 695.6,749.4 703.1,758.8 708.8,776.0 716.3,798.0 722.0,818.0 731.3,812.0 742.5,821.0 750.0,833.0 759.8,857.4 770.9,861.8 788.7,864.0 804.2,857.4 810.8,859.6 815.2,877.3 819.7,910.5 824.1,943.8 827.3,982.8 835.8,993.0 844.3,962.3 852.9,947.0 859.7,969.1 868.2,993.0 875.0,984.5 893.8,989.6 910.8,991.3 936.4,996.4 953.5,994.7 970.5,999.8 979.1,989.6 987.6,989.6 1004.6,982.8 1021.7,989.6 1043.6,984.5" fill="none" stroke="#ff0000" stroke-width="6.3" stroke-linejoin="round" stroke-linecap="butt" stroke-dasharray="24 7.5 11 7.5"/><polyline points="1176.0,900.0 1184.5,901.9 1204.8,894.6 1228.0,886.0 1251.2,868.6 1280.1,848.3 1309.1,832.3 1332.3,816.4 1355.5,796.1 1372.9,781.6 1377.2,772.9 1382.0,772.0 1393.2,777.2 1410.6,755.5 1430.9,732.3 1448.3,697.5 1462.8,668.6 1475.5,642.5 1488.5,616.4 1500.5,578.7" fill="none" stroke="#0000ff" stroke-width="6.3" stroke-linejoin="round" stroke-linecap="butt"/><polyline points="1176.0,990.0 1200.0,990.0 1300.0,990.0 1360.0,988.4 1373.0,985.2 1387.5,977.9 1397.2,980.3 1407.0,985.2 1424.8,982.0 1441.0,977.9 1457.2,973.8 1473.4,968.2 1488.0,964.1 1497.6,956.0 1511.4,952.0" fill="none" stroke="#0000ff" stroke-width="6.3" stroke-linejoin="round" stroke-linecap="butt"/><polyline points="1176.0,901.0 1184.5,902.5 1204.8,895.0 1228.0,886.0 1251.2,868.6 1280.1,848.3 1309.1,832.3 1332.3,816.4 1355.5,796.1 1372.9,783.0 1381.6,787.4 1393.2,777.2 1410.6,755.5 1430.9,732.3 1448.3,697.5 1462.8,668.6 1475.5,642.5 1488.5,616.4 1500.5,578.7" fill="none" stroke="#ff0000" stroke-width="6.3" stroke-linejoin="round" stroke-linecap="butt" stroke-dasharray="24 7.5 11 7.5"/><polyline points="1176.0,992.0 1300.0,991.0 1360.0,988.4 1376.2,983.6 1384.3,981.9 1394.0,990.0 1408.6,988.4 1432.9,986.8 1457.2,983.6 1481.5,978.7 1505.7,969.0 1530.0,956.0 1546.2,946.3 1562.4,926.9 1575.4,904.2 1586.7,876.7 1593.2,855.6 1597.6,846.0" fill="none" stroke="#ff0000" stroke-width="6.3" stroke-linejoin="round" stroke-linecap="butt" stroke-dasharray="24 7.5 11 7.5"/></g><g stroke="#454545" stroke-width="1.9" stroke-linejoin="round"><rect x="65.9" y="50.8" width="420.5" height="479.2" fill="none"/><line x1="65.9" y1="530.0" x2="71.9" y2="530.0"/><line x1="480.4" y1="530.0" x2="486.4" y2="530.0"/><line x1="65.9" y1="443.0" x2="71.9" y2="443.0"/><line x1="480.4" y1="443.0" x2="486.4" y2="443.0"/><line x1="65.9" y1="356.1" x2="71.9" y2="356.1"/><line x1="480.4" y1="356.1" x2="486.4" y2="356.1"/><line x1="65.9" y1="269.1" x2="71.9" y2="269.1"/><line x1="480.4" y1="269.1" x2="486.4" y2="269.1"/><line x1="65.9" y1="182.2" x2="71.9" y2="182.2"/><line x1="480.4" y1="182.2" x2="486.4" y2="182.2"/><line x1="65.9" y1="95.2" x2="71.9" y2="95.2"/><line x1="480.4" y1="95.2" x2="486.4" y2="95.2"/><line x1="338.3" y1="530.0" x2="338.3" y2="524.0"/><line x1="338.3" y1="50.8" x2="338.3" y2="56.8"/><rect x="620.0" y="50.8" width="423.6" height="479.2" fill="none"/><line x1="620.0" y1="530.0" x2="626.0" y2="530.0"/><line x1="1037.6" y1="530.0" x2="1043.6" y2="530.0"/><line x1="620.0" y1="358.8" x2="626.0" y2="358.8"/><line x1="1037.6" y1="358.8" x2="1043.6" y2="358.8"/><line x1="620.0" y1="187.9" x2="626.0" y2="187.9"/><line x1="1037.6" y1="187.9" x2="1043.6" y2="187.9"/><line x1="893.7" y1="530.0" x2="893.7" y2="524.0"/><line x1="893.7" y1="50.8" x2="893.7" y2="56.8"/><rect x="1175.7" y="50.8" width="421.9" height="479.2" fill="none"/><line x1="1175.7" y1="456.4" x2="1181.7" y2="456.4"/><line x1="1591.6" y1="456.4" x2="1597.6" y2="456.4"/><line x1="1175.7" y1="272.6" x2="1181.7" y2="272.6"/><line x1="1591.6" y1="272.6" x2="1597.6" y2="272.6"/><line x1="1175.7" y1="88.7" x2="1181.7" y2="88.7"/><line x1="1591.6" y1="88.7" x2="1597.6" y2="88.7"/><line x1="1448.1" y1="530.0" x2="1448.1" y2="524.0"/><line x1="1448.1" y1="50.8" x2="1448.1" y2="56.8"/><rect x="65.9" y="579.3" width="420.5" height="478.6" fill="none"/><line x1="65.9" y1="1057.9" x2="71.9" y2="1057.9"/><line x1="480.4" y1="1057.9" x2="486.4" y2="1057.9"/><line x1="65.9" y1="949.1" x2="71.9" y2="949.1"/><line x1="480.4" y1="949.1" x2="486.4" y2="949.1"/><line x1="65.9" y1="840.3" x2="71.9" y2="840.3"/><line x1="480.4" y1="840.3" x2="486.4" y2="840.3"/><line x1="65.9" y1="731.5" x2="71.9" y2="731.5"/><line x1="480.4" y1="731.5" x2="486.4" y2="731.5"/><line x1="65.9" y1="622.7" x2="71.9" y2="622.7"/><line x1="480.4" y1="622.7" x2="486.4" y2="622.7"/><line x1="338.3" y1="1057.9" x2="338.3" y2="1051.9"/><line x1="338.3" y1="579.3" x2="338.3" y2="585.3"/><rect x="620.0" y="579.3" width="423.6" height="478.6" fill="none"/><line x1="620.0" y1="1057.9" x2="626.0" y2="1057.9"/><line x1="1037.6" y1="1057.9" x2="1043.6" y2="1057.9"/><line x1="620.0" y1="898.2" x2="626.0" y2="898.2"/><line x1="1037.6" y1="898.2" x2="1043.6" y2="898.2"/><line x1="620.0" y1="738.6" x2="626.0" y2="738.6"/><line x1="1037.6" y1="738.6" x2="1043.6" y2="738.6"/><line x1="620.0" y1="579.3" x2="626.0" y2="579.3"/><line x1="1037.6" y1="579.3" x2="1043.6" y2="579.3"/><line x1="893.7" y1="1057.9" x2="893.7" y2="1051.9"/><line x1="893.7" y1="579.3" x2="893.7" y2="585.3"/><rect x="1175.7" y="579.3" width="421.9" height="478.6" fill="none"/><line x1="1175.7" y1="1057.4" x2="1181.7" y2="1057.4"/><line x1="1591.6" y1="1057.4" x2="1597.6" y2="1057.4"/><line x1="1175.7" y1="921.0" x2="1181.7" y2="921.0"/><line x1="1591.6" y1="921.0" x2="1597.6" y2="921.0"/><line x1="1175.7" y1="784.6" x2="1181.7" y2="784.6"/><line x1="1591.6" y1="784.6" x2="1597.6" y2="784.6"/><line x1="1175.7" y1="648.2" x2="1181.7" y2="648.2"/><line x1="1591.6" y1="648.2" x2="1597.6" y2="648.2"/><line x1="1448.1" y1="1057.9" x2="1448.1" y2="1051.9"/><line x1="1448.1" y1="579.3" x2="1448.1" y2="585.3"/></g></svg></body></html>
